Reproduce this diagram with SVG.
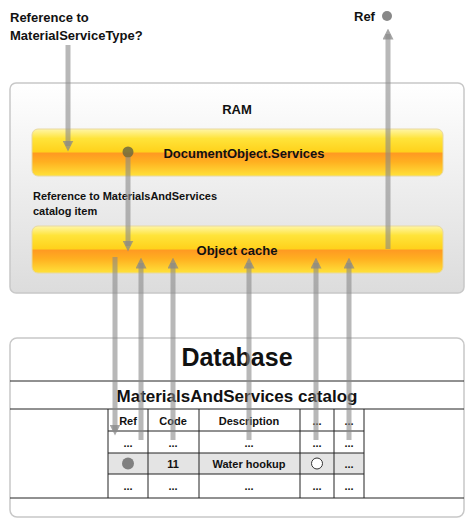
<svg xmlns="http://www.w3.org/2000/svg" width="474" height="527" viewBox="0 0 474 527">
<style>
text{font-family:"Liberation Sans",Arial,sans-serif;font-weight:bold;fill:#111}
.c{text-anchor:middle}
.ln{stroke:#222;stroke-width:1;fill:none}
.ar{stroke:#888;stroke-opacity:0.6;stroke-width:5;fill:none}
.cell{font-size:11px}
</style>
<defs>
<linearGradient id="ram" x1="0" y1="0" x2="0" y2="1">
<stop offset="0" stop-color="#ffffff"/>
<stop offset="1" stop-color="#dcdcdc"/>
</linearGradient>
<linearGradient id="bar" x1="0" y1="0" x2="0" y2="1">
<stop offset="0" stop-color="#fff6a8"/>
<stop offset="0.2" stop-color="#ffe43a"/>
<stop offset="0.48" stop-color="#ffd21c"/>
<stop offset="0.52" stop-color="#ff9a22"/>
<stop offset="0.7" stop-color="#ffb020"/>
<stop offset="1" stop-color="#ffe23a"/>
</linearGradient>
<marker id="ah" viewBox="0 0 10 10" refX="5" refY="5" markerWidth="2.2" markerHeight="2.2" orient="auto" markerUnits="strokeWidth">
<path d="M0,0 L10,5 L0,10 z" fill="#888" fill-opacity="0.75"/>
</marker>
</defs>

<g id="labels">
<text x="10" y="22" font-size="13">Reference to</text>
<text x="10" y="40" font-size="13">MaterialServiceType?</text>
<text x="354" y="21" font-size="13">Ref</text>
<circle cx="387" cy="16" r="5" fill="#888"/>
</g>

<g id="ram">
<rect x="10" y="83" width="454" height="210" rx="6" fill="url(#ram)" stroke="#c8c8c8" stroke-width="1.5"/>
<text class="c" x="237" y="114" font-size="13">RAM</text>
<text x="33" y="200" font-size="11">Reference to MaterialsAndServices</text>
<text x="33" y="215" font-size="11">catalog item</text>
</g>

<g id="docobj">
<rect x="32" y="129" width="411" height="47" rx="6" fill="url(#bar)" stroke="#e8d8a0" stroke-width="1"/>
<text class="c" x="244" y="158" font-size="13">DocumentObject.Services</text>
</g>

<g id="cache">
<rect x="32" y="226" width="411" height="47" rx="6" fill="url(#bar)" stroke="#e8d8a0" stroke-width="1"/>
<text class="c" x="237" y="255" font-size="13">Object cache</text>
</g>

<g id="database">
<rect x="10" y="338" width="454" height="179" rx="7" fill="#fff" stroke="#c8c8c8" stroke-width="1.5"/>
<text class="c" x="237" y="366" font-size="25">Database</text>
<line class="ln" x1="10" y1="381" x2="464" y2="381"/>
<text class="c" x="237" y="402" font-size="17">MaterialsAndServices catalog</text>
<line class="ln" x1="10" y1="409" x2="464" y2="409"/>
<rect x="108" y="453" width="256" height="21" fill="#e4e4e4"/>
<line class="ln" x1="108" y1="409" x2="108" y2="498"/>
<line class="ln" x1="148" y1="409" x2="148" y2="498"/>
<line class="ln" x1="199" y1="409" x2="199" y2="498"/>
<line class="ln" x1="300" y1="409" x2="300" y2="498"/>
<line class="ln" x1="334" y1="409" x2="334" y2="498"/>
<line class="ln" x1="364" y1="409" x2="364" y2="498"/>
<line class="ln" x1="108" y1="431" x2="364" y2="431"/>
<line class="ln" x1="108" y1="453" x2="364" y2="453"/>
<line class="ln" x1="108" y1="474" x2="364" y2="474"/>
<line class="ln" x1="10" y1="498" x2="464" y2="498"/>
<text class="c cell" x="128" y="425">Ref</text>
<text class="c cell" x="173" y="425">Code</text>
<text class="c cell" x="249" y="425">Description</text>
<text class="c cell" x="317" y="425">...</text>
<text class="c cell" x="349" y="425">...</text>
<text class="c cell" x="128" y="447">...</text>
<text class="c cell" x="173" y="447">...</text>
<text class="c cell" x="249" y="447">...</text>
<text class="c cell" x="317" y="447">...</text>
<text class="c cell" x="349" y="447">...</text>
<circle cx="128" cy="463.5" r="6" fill="#808080"/>
<text class="c cell" x="173" y="468">11</text>
<text class="c cell" x="249" y="468">Water hookup</text>
<circle cx="317" cy="463.5" r="5.5" fill="#fff" stroke="#333" stroke-width="1"/>
<text class="c cell" x="349" y="468">...</text>
<text class="c cell" x="128" y="490">...</text>
<text class="c cell" x="173" y="490">...</text>
<text class="c cell" x="249" y="490">...</text>
<text class="c cell" x="317" y="490">...</text>
<text class="c cell" x="349" y="490">...</text>
</g>

<g id="connectors">
<line class="ar" x1="68" y1="45" x2="68" y2="146" marker-end="url(#ah)"/>
<circle cx="128" cy="152" r="5.5" fill="#6e6a40" fill-opacity="0.85"/>
<line class="ar" x1="128" y1="157" x2="128" y2="246" marker-end="url(#ah)"/>
<line class="ar" x1="388" y1="249" x2="388" y2="34" marker-end="url(#ah)"/>
<line class="ar" x1="115" y1="257" x2="115" y2="430" marker-end="url(#ah)"/>
<line class="ar" x1="141" y1="440" x2="141" y2="263" marker-end="url(#ah)"/>
<line class="ar" x1="173" y1="440" x2="173" y2="263" marker-end="url(#ah)"/>
<line class="ar" x1="249" y1="440" x2="249" y2="263" marker-end="url(#ah)"/>
<line class="ar" x1="316" y1="440" x2="316" y2="263" marker-end="url(#ah)"/>
<line class="ar" x1="349" y1="440" x2="349" y2="263" marker-end="url(#ah)"/>
</g>
</svg>
